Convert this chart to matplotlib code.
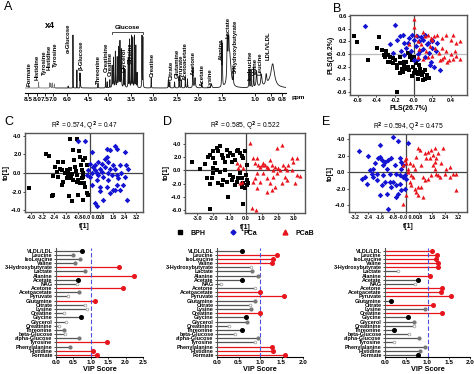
import numpy as np
import matplotlib.pyplot as plt
from matplotlib.lines import Line2D

plt.rcParams['font.family'] = ['Liberation Sans', 'DejaVu Sans']
plt.rcParams['font.weight'] = 'bold'
plt.rcParams['axes.labelweight'] = 'bold'

# --- spectrum (panel A) ---
ppm_ticks = [8.5, 8.0, 7.5, 7.0, 6.0, 4.5, 4.0, 3.5, 3.0, 2.5, 2.0, 1.5, 1.0, 0.9, 0.8]
# broken ppm axis: ppm knots and where they sit on the page (px)
knot_ppm = [0.75, 0.8, 0.9, 1.0, 1.5, 2.0, 2.5, 3.0, 3.5, 4.0, 4.5, 4.64, 5.23, 6.0, 7.0, 7.5, 8.0, 8.5, 8.6]
knot_px = [286, 282, 271, 255, 222, 198, 177, 153, 131, 108, 88, 80, 73, 67, 53, 45, 37, 28, 25]

peak_ppm = [8.45, 7.90, 7.20, 7.15, 7.05, 6.90, 5.85, 5.235, 5.225, 4.90, 4.645, 4.635,
            4.25, 4.06, 4.02, 3.96, 3.91, 3.88, 3.84, 3.80, 3.77, 3.74, 3.71, 3.66, 3.63,
            3.56, 3.53, 3.49, 3.46, 3.42, 3.39, 3.36, 3.25, 3.23, 3.04, 2.68, 2.65, 2.55,
            2.45, 2.40, 2.30, 2.25, 2.12, 2.07, 1.92, 1.72, 1.505, 1.495, 1.42, 1.40, 1.38,
            1.33, 1.09, 1.06, 1.02, 0.99, 0.96, 0.93, 0.885]
peak_height = [2, 6, 5, 4, 5, 4, 2, 52, 52, 18, 14, 13,
               4, 10, 6, 8, 22, 30, 36, 30, 40, 46, 38, 20, 18,
               30, 48, 52, 50, 52, 42, 15, 52, 50, 10, 8, 6, 6,
               12, 8, 10, 9, 20, 10, 5, 4, 43, 40, 52, 52, 30,
               16, 18, 18, 20, 16, 12, 10, 24]
peak_width = [0.004, 0.006, 0.01, 0.01, 0.01, 0.01, 0.01, 0.003, 0.003, 0.004, 0.003, 0.003,
              0.004, 0.003, 0.003, 0.003, 0.004, 0.004, 0.004, 0.004, 0.004, 0.004, 0.004, 0.004, 0.004,
              0.004, 0.003, 0.003, 0.003, 0.003, 0.003, 0.004, 0.003, 0.003, 0.003, 0.004, 0.004, 0.004,
              0.004, 0.004, 0.004, 0.004, 0.006, 0.01, 0.004, 0.01, 0.003, 0.003, 0.006, 0.006, 0.02,
              0.003, 0.003, 0.003, 0.003, 0.003, 0.004, 0.004, 0.02]

spec_labels = ['Formate', 'Histidine', 'Tyrosine', 'Histidine', 'Tyrosine', 'α-Glucose',
               'β-Glucose', 'Threonine', 'Creatinine', 'Creatine', 'Glycerol', 'Glycine',
               'Creatine', 'Citrate', 'Glutamine', 'Pyruvate', 'Acetoacetate', 'Acetone',
               'Acetate', 'Lysine', 'Alanine', 'Lactate', '3-Hydroxybutyrate', 'Isoleucine',
               'Valine', 'Leucine', 'LDL/VLDL']
spec_label_ppm = [8.46, 8.0, 7.56, 7.25, 6.86, 5.9, 4.62, 4.25, 4.05, 3.96, 3.65, 3.52,
                  3.02, 2.62, 2.5, 2.40, 2.29, 2.1, 1.9, 1.75, 1.52, 1.41, 1.29, 1.08,
                  1.0, 0.97, 0.92]
spec_label_y = [2, 8, 13, 18, 21, 35, 18, 4, 16, 12, 16, 24,
                11, 8, 10, 8, 8, 13, 2, 1, 28, 50, 15, 8,
                13, 13, 28]

# --- score plots ---
b_bph = [(-0.636, 0.283), (-0.611, 0.182), (-0.486, -0.098), (-0.371, 0.272), (-0.389, 0.087),
         (-0.343, 0.060), (-0.307, -0.045), (-0.271, -0.019), (-0.254, -0.125), (-0.218, -0.072),
         (-0.182, -0.178), (-0.146, -0.151), (-0.129, -0.231), (-0.104, -0.125), (-0.082, -0.231),
         (-0.057, 0.007), (-0.039, -0.045), (-0.021, -0.098), (-0.004, -0.204), (0.014, -0.257),
         (0.032, -0.284), (0.05, -0.31), (0.068, -0.231), (0.086, -0.336), (0.121, -0.389),
         (0.139, -0.336), (0.104, -0.405), (-0.182, -0.601), (-0.25, -0.05), (-0.2, -0.1),
         (-0.15, -0.05), (-0.1, -0.18), (-0.05, -0.25), (0.0, -0.3), (-0.12, -0.28),
         (-0.18, -0.22), (-0.22, -0.15), (-0.28, -0.12), (-0.32, -0.02), (-0.08, -0.12),
         (0.02, -0.15), (0.06, -0.18), (0.1, -0.28), (-0.02, -0.35), (0.04, -0.4),
         (-0.15, -0.3), (-0.3, 0.05), (-0.04, 0.0), (0.0, -0.05), (0.08, -0.3),
         (0.12, -0.25), (-0.06, -0.2), (0.16, -0.38)]
b_pca = [(-0.52, 0.44), (-0.2, 0.46), (-0.25, 0.15), (-0.22, 0.02), (-0.18, 0.22), (-0.15, 0.28),
         (-0.12, 0.30), (-0.1, 0.18), (-0.08, 0.1), (-0.05, 0.25), (-0.03, 0.05), (0.0, 0.22),
         (0.02, 0.12), (0.04, 0.0), (0.06, 0.2), (0.08, 0.26), (0.1, 0.08), (0.12, -0.05),
         (0.14, 0.15), (0.16, 0.02), (0.18, -0.12), (0.2, 0.1), (0.22, -0.2), (0.24, 0.05),
         (0.28, -0.26), (-0.14, 0.05), (-0.06, 0.18), (0.05, -0.08), (0.1, 0.22), (0.15, 0.18),
         (0.2, 0.2), (0.17, -0.18), (0.07, 0.05), (-0.02, 0.3), (0.0, -0.1), (0.12, 0.3),
         (0.19, 0.22), (-0.1, -0.02), (0.25, 0.18), (0.03, 0.28)]
b_pcab = [(0.0, 0.55), (0.0, 0.42), (0.02, 0.3), (0.05, 0.2), (0.1, 0.35), (0.12, 0.28),
          (0.15, 0.3), (0.18, 0.25), (0.2, 0.22), (0.25, 0.3), (0.3, 0.25), (0.35, 0.3),
          (0.4, 0.22), (0.42, 0.3), (0.45, 0.18), (0.5, 0.2), (0.3, 0.1), (0.35, 0.05),
          (0.4, 0.0), (0.45, -0.03), (0.5, -0.08), (0.42, -0.08), (0.38, -0.1), (0.32, -0.05),
          (0.27, 0.02), (0.3, -0.08), (0.2, -0.03), (0.15, -0.05), (0.1, -0.08), (0.05, -0.05),
          (0.08, 0.15), (0.13, 0.05), (0.23, 0.1), (0.28, -0.1), (0.36, -0.12), (0.44, 0.05),
          (-0.05, 0.15), (0.06, 0.08), (0.17, 0.12), (0.22, 0.28)]

c_bph = [(-4.11, -1.63), (-3.0, 2.06), (-2.75, 1.82), (-2.48, -0.30), (-2.36, 0.65), (-2.52, -2.34),
         (-2.59, -2.51), (-2.25, 0.06), (-2.14, -0.40), (-2.02, 0.48), (-1.80, 1.18), (-1.91, -1.28),
         (-1.80, -0.93), (-1.57, 0.30), (-1.50, -0.23), (-1.45, 0.06), (-1.34, 0.48), (-1.30, -0.58),
         (-1.39, -2.51), (-1.23, -2.97), (-1.11, 2.42), (-1.07, 1.36), (-1.0, 0.65), (-0.93, 0.20),
         (-0.89, -0.23), (-0.82, -0.75), (-0.77, -2.34), (-0.70, 2.31), (-0.66, 1.71), (-0.59, 0.83),
         (-0.55, 0.30), (-0.48, -0.05), (-0.43, -0.40), (-0.39, -1.11), (-0.32, -1.46), (-1.34, 3.65),
         (-0.89, 3.65), (-0.16, -2.16), (-0.09, -2.34), (-0.32, 1.61), (-0.20, 0.83), (-0.43, 1.36),
         (-0.55, -0.58), (-0.66, -1.11), (-0.89, -0.93), (-1.11, -0.75), (-1.23, -0.15), (-1.57, -0.58),
         (-1.68, -0.05), (-1.91, 0.30), (-2.14, 1.18), (-0.43, -2.87)]
c_pca = [(-0.82, 3.47), (-0.32, 3.47), (0.14, 2.24), (0.25, 0.65), (0.36, 0.30), (0.48, -0.05),
         (0.59, -0.23), (0.70, 0.48), (0.82, 0.13), (0.93, -0.40), (1.05, 0.65), (1.16, 1.71),
         (1.27, -0.05), (1.39, 0.48), (1.27, -0.75), (1.61, 0.83), (1.73, 0.48), (1.84, -0.23),
         (1.95, -0.58), (1.73, -1.81), (1.84, -1.28), (1.16, -1.46), (0.70, -1.46), (0.93, -2.87),
         (0.36, -3.22), (0.48, -3.57), (1.16, 2.59), (1.39, 2.42), (1.73, 2.94), (1.84, 2.59),
         (2.07, 0.83), (2.18, -0.05), (2.30, -1.28), (2.41, 2.24), (2.52, 0.83), (2.64, 0.48),
         (2.41, -0.40), (2.59, -2.87), (0.02, 1.0), (0.14, -0.05), (0.14, -1.28), (0.48, -0.75),
         (0.70, -1.99), (1.39, -2.16), (1.61, -1.81), (2.07, -1.81), (-0.09, 0.30), (0.02, -0.40),
         (-0.20, -0.23), (0.36, 0.83), (0.59, 1.18), (0.82, 1.0), (1.05, 1.53), (1.27, 1.18),
         (1.50, -0.23)]

d_bph = [(-3.35, 1.32), (-2.83, 0.21), (-2.52, 0.92), (-2.32, 1.93), (-2.21, 2.33), (-2.05, 2.94),
         (-2.01, 1.83), (-1.90, 1.07), (-1.80, 3.34), (-1.70, 2.84), (-1.59, 3.60), (-1.49, 2.33),
         (-1.39, 1.83), (-1.28, 1.32), (-1.18, 3.09), (-1.07, 2.08), (-0.97, 2.59), (-0.87, 1.32),
         (-0.76, 2.33), (-0.66, 1.58), (-0.56, 2.84), (-0.45, 3.09), (-0.35, 2.59), (-0.25, 2.08),
         (-0.14, 1.83), (-0.04, 2.84), (0.06, 0.82), (-1.28, 0.06), (-1.59, -0.19), (-1.80, 0.06),
         (-2.01, -0.44), (-2.11, -1.20), (-2.21, -2.11), (-1.70, -1.96), (-1.49, -2.21), (-1.39, -1.45),
         (-1.18, -1.71), (-0.97, -0.70), (-0.87, -1.45), (-0.76, -0.95), (-0.56, -1.71), (-0.35, -0.44),
         (-0.25, -1.20), (-0.14, -1.96), (-0.04, -2.72), (0.06, -1.45), (0.11, -2.21), (0.02, -0.70),
         (-0.45, -1.20), (-0.66, -2.21), (-1.07, -3.98), (-2.21, -5.85), (-0.14, -4.99), (-0.25, -2.46),
         (0.17, -1.96), (-2.01, 0.31), (-2.42, -1.20)]
d_pcab = [(0.27, 4.10), (0.48, 1.83), (0.69, 1.83), (0.58, 1.07), (0.79, 0.82), (0.89, 0.57),
          (1.00, 0.82), (1.10, 1.07), (1.20, 0.82), (1.31, 0.57), (1.41, 0.31), (1.51, 1.58),
          (1.62, 0.82), (1.72, 0.06), (1.82, 0.57), (1.93, 3.34), (2.03, 0.31), (2.13, 0.06),
          (2.24, 3.85), (2.34, 0.82), (2.44, 0.31), (2.55, -1.45), (2.65, 0.82), (2.86, 1.83),
          (2.96, 1.32), (3.07, -1.96), (3.17, -0.70), (2.86, 0.06), (1.10, -0.44), (0.69, -0.44),
          (0.58, -1.20), (0.89, -1.71), (1.31, -1.20), (1.51, -1.96), (1.72, -0.95), (1.93, -0.44),
          (1.82, -2.46), (1.31, -3.22), (1.62, -2.97), (0.69, -2.72), (0.37, -5.7), (0.64, -6.0),
          (0.48, -1.71), (-0.56, 1.07), (-0.45, 0.31), (-0.35, 0.82), (-0.14, 0.31), (-0.35, -1.96),
          (-0.25, -1.71), (2.24, -1.96), (2.44, -0.95), (2.55, 0.06), (3.38, -0.85), (3.2, 1.9)]

e_pca = [(-2.95, 2.58), (-2.75, -0.76), (-2.58, -0.55), (-2.37, 2.01), (-2.48, -1.37), (-2.27, 0.26),
         (-2.17, -0.15), (-2.06, 0.46), (-1.96, 1.07), (-1.86, -0.15), (-1.75, 1.68), (-1.65, 1.89),
         (-1.65, 3.31), (-1.55, 1.48), (-1.44, 0.87), (-1.34, 1.28), (-1.24, 0.46), (-1.13, 1.48),
         (-1.03, -0.15), (-0.93, 1.68), (-0.82, 4.33), (-0.72, 0.87), (-0.62, -0.15), (-0.51, 3.80),
         (-0.41, 1.68), (-0.31, 0.46), (-0.20, 0.87), (-0.10, -0.35), (0.0, -0.76), (-0.82, -1.16),
         (-1.03, -1.16), (-1.34, -1.16), (-1.55, -1.57), (-1.65, -2.79), (-1.24, -2.59), (-0.93, -1.77),
         (-0.62, -1.57), (-0.41, -1.37), (-0.62, -2.99), (-0.51, -2.59), (-1.13, -4.41), (-0.31, -2.18),
         (0.11, 3.51), (-0.10, -1.98), (-0.20, -0.55), (-0.41, -0.35), (-0.31, 1.28), (-2.06, -0.55),
         (-1.86, -0.96), (-1.44, -0.35)]
e_pcab = [(-0.20, 0.87), (-0.10, 1.48), (-0.06, 1.07), (0.0, 1.68), (0.11, 0.46), (0.21, 1.07),
          (0.31, -0.35), (0.42, 0.87), (0.52, 0.46), (0.62, 1.89), (0.73, 2.90), (0.83, 2.70),
          (0.93, 0.87), (1.04, -0.55), (1.14, 2.29), (1.24, 1.68), (1.35, 2.50), (1.45, 1.68),
          (1.55, 2.70), (1.66, 2.09), (1.76, 2.90), (1.86, 1.68), (1.97, 2.29), (1.66, 0.87),
          (1.76, 0.46), (1.86, -0.15), (1.97, -0.35), (2.07, -0.55), (1.55, -0.35), (1.35, -0.76),
          (1.14, -0.96), (0.93, -1.77), (0.73, -1.77), (0.62, -2.38), (0.52, -1.98), (0.31, -1.57),
          (0.42, -0.55), (0.21, -1.16), (0.11, 0.06), (0.0, -2.79), (-0.20, -3.80), (0.73, -2.79),
          (1.04, -2.99), (2.28, 2.90), (2.38, -0.15), (2.48, 0.46), (2.69, 0.67), (2.90, -0.15),
          (3.10, -0.15), (3.10, -2.18), (2.69, -0.55), (2.17, 1.07), (1.76, 1.28)]

b_xticks = [-0.6, -0.4, -0.2, 0.0, 0.2, 0.4]
b_xlabels = ['-0.6', '-0.4', '-0.2', '-0.0', '0.2', '0.4']
b_yticks = [0.6, 0.4, 0.2, 0.0, -0.2, -0.4, -0.6]
b_ylabels = ['0.6', '0.4', '0.2', '-0.0', '-0.2', '-0.4', '-0.6']
ce_xticks = [-4.0, -3.2, -2.4, -1.6, -0.8, 0.0, 0.8, 1.6, 2.4, 3.2]
ce_xlabels = ['-4.0', '-3.2', '-2.4', '-1.6', '-0.8', '-0.0 0.0', '0.8', '1.6', '2.4', '3.2']
d_xticks = [-3.0, -2.0, -1.0, 0.0, 1.0, 2.0, 3.0]
d_xlabels = ['-3.0', '-2.0', '-1.0', '0.0', '1.0', '2.0', '3.0']
c_yticks = [4.0, 2.0, 0.0, -2.0, -4.0]
d_yticks = [4.0, 2.0, 0.0, -2.0, -4.0, -6.0]
titles = ['R$^2$ = 0.574, Q$^2$ = 0.47', 'R$^2$ = 0.585, Q$^2$ = 0.522', 'R$^2$ = 0.594, Q$^2$ = 0.475']

# --- VIP scores ---
metabolites = ['VLDL/LDL', 'Leucine', 'IsoLeucine', 'Valine', '3-Hydroxybutyrate', 'Lactate',
               'Alanine', 'Acetate', 'NAG', 'Acetone', 'Acetoacetate', 'Pyruvate', 'Glutamine',
               'Citrate', 'Lysine', 'Creatine', 'Glycine', 'Glycerol', 'Creatinine', 'Threonine',
               'beta-Glucose', 'alpha-Glucose', 'Tyrosine', 'Phenylalanine', 'Histidine', 'Formate']
vip_c = [0.76, 0.50, 0.69, 0.54, 1.81, 0.83, 2.25, 0.64, 0.61, 1.93, 0.66, 0.35, 1.12,
         0.83, 0.88, 0.23, 0.72, 0.28, 0.10, 0.24, 0.27, 0.66, 1.47, 0.40, 1.07, 1.19]
vip_d = [0.59, 1.40, 1.30, 1.28, 0.80, 0.82, 0.95, 0.59, 0.10, 0.88, 1.01, 1.56, 0.88,
         0.76, 0.78, 1.01, 0.68, 0.70, 0.28, 0.59, 0.41, 0.95, 0.88, 1.29, 1.30, 1.57]
vip_e = [1.11, 1.23, 1.20, 1.24, 1.24, 0.31, 1.06, 0.78, 0.71, 1.33, 1.32, 1.55, 0.14,
         1.14, 0.93, 1.33, 0.55, 0.68, 0.68, 0.22, 0.56, 0.81, 0.20, 0.93, 0.82, 0.77]
# dot style per row: k = black dot, g = grey dot, w = open dot (red rows use red dots)
dots_c = list('kgggrgrkwrgwrwwwkwwgwgrgrr')
dots_d = list('krrrwggkwwrrgwgrkgwkwgwrrr')
dots_e = list('rrrrrwrkwrrrkrgrkgwkwgwggk')

W, H = 474, 374
RED = '#e8141c'
BLUE = '#1414d2'
fig = plt.figure(figsize=(W / 100, H / 100), dpi=100)


def box(l, t, r, b):
    return [l / W, 1 - b / H, (r - l) / W, (b - t) / H]


# ---------------- A: NMR spectrum ----------------
axA = fig.add_axes(box(25, 12, 286, 93))
kp = np.array(knot_ppm)
kx = np.array(knot_px, dtype=float)
axA.set_xscale('function', functions=(lambda p: -np.interp(p, kp, kx),
                                      lambda u: np.interp(u, -kx, kp)))
ppm = np.linspace(0.75, 8.6, 60000)
spec = np.zeros_like(ppm)
for p0, h, w in zip(peak_ppm, peak_height, peak_width):
    spec += h * w ** 2 / ((ppm - p0) ** 2 + w ** 2)
spec = np.minimum(spec, 53)
aro = ppm > 6.8
axA.plot(ppm[~aro], spec[~aro], color='#1a1a1a', lw=0.6)
axA.plot(ppm[aro], spec[aro], color='#777777', lw=0.6)
axA.set_xlim(8.6, 0.75)
axA.set_ylim(-5, 76)
for s in ['left', 'top', 'right']:
    axA.spines[s].set_visible(False)
axA.spines['bottom'].set_linewidth(0.8)
axA.set_yticks([])
axA.set_xticks(ppm_ticks)
axA.set_xticklabels([f'{t:.1f}' for t in ppm_ticks], fontsize=4.6)
axA.tick_params(axis='x', length=2, width=0.6, pad=1)
for lab, p, y in zip(spec_labels, spec_label_ppm, spec_label_y):
    axA.text(p, y, lab, rotation=90, ha='center', va='bottom', fontsize=4.3)
axA.plot([3.92, 3.92, 3.22, 3.22], [54, 56, 56, 54], color='#333333', lw=0.6)
axA.text(3.57, 58, 'Glucose', ha='center', va='bottom', fontsize=4.6)
axA.text(7.2, 58, 'x4', ha='center', va='bottom', fontsize=6.5)
fig.text(292 / W, 1 - 98 / H, 'ppm', fontsize=4.6, va='center')


# ---------------- score plots ----------------
def score_axes(ax, xlim, ylim, xt, xl, yt, yl, hcol, xfs=4.0):
    ax.set_xlim(xlim)
    ax.set_ylim(ylim)
    ax.axvline(0, color='#444444', lw=0.9, zorder=1)
    ax.axhline(0, color=hcol, lw=0.9, zorder=1)
    ax.set_xticks(xt)
    ax.set_xticklabels(xl, fontsize=xfs)
    ax.set_yticks(yt)
    ax.set_yticklabels(yl, fontsize=4.2)
    ax.tick_params(length=1.5, width=0.5, pad=1)
    for s in ax.spines.values():
        s.set_color('#555555')
        s.set_linewidth(1.0)


def draw(ax, pts, kind):
    pts = np.array(pts)
    if kind == 'bph':
        ax.scatter(pts[:, 0], pts[:, 1], s=6, marker='s', color='black', lw=0, zorder=3)
    elif kind == 'pca':
        ax.scatter(pts[:, 0], pts[:, 1], s=8, marker='D', color=BLUE, lw=0, zorder=3)
    else:
        ax.scatter(pts[:, 0], pts[:, 1], s=9, marker='^', color=RED, lw=0, zorder=3)


axB = fig.add_axes(box(350, 15, 467, 95))
score_axes(axB, (-0.683, 0.57), (-0.65, 0.616), b_xticks, b_xlabels, b_yticks, b_ylabels, '#bbbbbb')
draw(axB, b_bph, 'bph')
draw(axB, b_pca, 'pca')
draw(axB, b_pcab, 'pcab')
axB.set_xlabel('PLS(26.7%)', fontsize=5, labelpad=1)
axB.set_ylabel('PLS(16.2%)', fontsize=5, labelpad=1)

axC = fig.add_axes(box(25, 133, 143, 212))
score_axes(axC, (-4.41, 3.65), (-4.2, 4.3), ce_xticks, ce_xlabels, c_yticks,
           [f'{v:.1f}' for v in c_yticks], '#444444', xfs=3.7)
draw(axC, c_bph, 'bph')
draw(axC, c_pca, 'pca')

axD = fig.add_axes(box(185, 133, 305, 213))
score_axes(axD, (-3.77, 3.69), (-6.4, 5.6), d_xticks, d_xlabels, d_yticks,
           [f'{v:.1f}' for v in d_yticks], '#444444')
draw(axD, d_bph, 'bph')
draw(axD, d_pcab, 'pcab')

axE = fig.add_axes(box(349, 134, 467, 212))
score_axes(axE, (-3.57, 3.76), (-4.82, 4.65), ce_xticks[1:], ce_xlabels[1:], c_yticks,
           [f'{v:.1f}' for v in c_yticks], '#444444', xfs=3.7)
draw(axE, e_pca, 'pca')
draw(axE, e_pcab, 'pcab')

for ax, t in zip([axC, axD, axE], titles):
    ax.set_title(t, fontsize=4.8, pad=2)
    ax.set_xlabel('t[1]', fontsize=5, labelpad=1.5)
    ax.set_ylabel('to[1]', fontsize=5, labelpad=1)

handles = [Line2D([], [], ls='', marker='s', color='black', ms=3),
           Line2D([], [], ls='', marker='D', color=BLUE, ms=2.5),
           Line2D([], [], ls='', marker='^', color=RED, ms=3.5)]
fig.legend(handles, ['BPH', 'PCa', 'PCaB'], loc='center', ncol=3, frameon=False,
           bbox_to_anchor=(245 / W, 1 - 233 / H), fontsize=5, columnspacing=3.5,
           handletextpad=1.0, handlelength=1)


# ---------------- VIP plots ----------------
def vip_axes(ax, vals, dots, xmax):
    y = np.arange(len(metabolites))
    vals = np.array(vals)
    over = vals > 1
    cols = np.where(over, RED, '#555555')
    ax.hlines(y, 0, vals, colors=cols, lw=0.9, zorder=2)
    for yi, v, d in zip(y, vals, dots):
        if d == 'r':
            ax.plot(v, yi, 'o', ms=2.6, color=RED, mec=RED, zorder=4)
        elif d == 'k':
            ax.plot(v, yi, 'o', ms=2.6, color='black', zorder=4)
        elif d == 'g':
            ax.plot(v, yi, 'o', ms=2.0, color='#777777', zorder=4)
        else:
            ax.plot(v, yi, 'o', ms=2.0, mfc='white', mec='#999999', mew=0.5, zorder=4)
    ax.axvline(1.0, color='#5050e0', lw=0.8, ls=(0, (4, 2)), zorder=3)
    ax.set_ylim(len(metabolites) - 0.5, -0.6)
    ax.set_xlim(0, xmax)
    ticks = np.arange(0, xmax + 0.01, 0.5)
    ax.set_xticks(ticks)
    ax.set_xticklabels([f'{t:.1f}' for t in ticks], fontsize=4.6)
    ax.set_yticks(y)
    ax.set_yticklabels(metabolites, fontsize=3.9)
    ax.tick_params(length=1.5, width=0.5, pad=1)
    for s in ['top', 'right']:
        ax.spines[s].set_visible(False)
    ax.spines['left'].set_color('#555555')
    ax.spines['bottom'].set_linewidth(0.8)
    ax.set_xlabel('VIP Score', fontsize=5.2, labelpad=0.5)


vip_axes(fig.add_axes(box(56, 248, 143, 357)), vip_c, dots_c, 2.5)
vip_axes(fig.add_axes(box(217, 248, 303, 357)), vip_d, dots_d, 2.0)
vip_axes(fig.add_axes(box(385, 248, 470, 357)), vip_e, dots_e, 2.0)

for lab, x, y in [('A', 4, 1), ('B', 333, 3), ('C', 4, 116), ('D', 163, 116), ('E', 322, 116)]:
    fig.text(x / W, 1 - y / H, lab, fontsize=9, fontweight='normal', va='top')

fig.savefig('out.png', dpi=100)
